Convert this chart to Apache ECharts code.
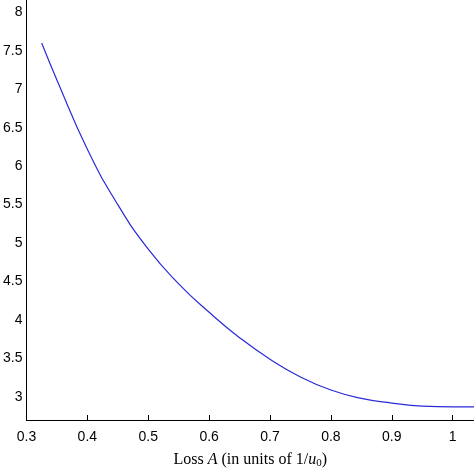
<!DOCTYPE html>
<html><head><meta charset="utf-8">
<script src="https://cdn.jsdelivr.net/npm/echarts@6/dist/echarts.min.js"></script>
<style>html,body{margin:0;background:#fff}#c{width:474px;height:474px}</style>
</head><body><div id="c"></div>
<script>
var lossA = [0.325, 0.35, 0.4, 0.45, 0.5, 0.55, 0.6, 0.65, 0.7, 0.75, 0.8, 0.85, 0.9, 0.95, 1.0, 1.035];
var gain  = [7.60, 7.12, 6.22, 5.50, 4.92, 4.47, 4.10, 3.77, 3.49, 3.26, 3.09, 2.98, 2.92, 2.88, 2.87, 2.87];

var chart = echarts.init(document.getElementById("c"));
var pts = lossA.map(function (x, i) { return [x, gain[i]]; });
var font = "Liberation Sans";
chart.setOption({
  animation: false,
  grid: { left: 16, right: 0, top: 0, bottom: 54 },
  xAxis: {
    type: "value", min: 0.3, max: 1.035, interval: 0.1,
    axisLine: { onZero: false, lineStyle: { color: "#000" } },
    axisTick: { inside: true, length: 5, lineStyle: { color: "#000" } },
    axisLabel: { color: "#000", fontSize: 14, fontFamily: font, margin: 10, showMaxLabel: false,
      formatter: function (v) { return Math.abs(v - 1) < 1e-6 ? "1" : v.toFixed(1); } },
    splitLine: { show: false },
    name: "{n|Loss }{i|A}{n| (in units of 1/}{i|u}{s|0}{n|)}",
    nameLocation: "middle", nameGap: 30,
    nameTextStyle: { rich: {
      n: { fontFamily: "Liberation Serif", fontSize: 16, color: "#000" },
      i: { fontFamily: "Liberation Serif", fontStyle: "italic", fontSize: 16, color: "#000" },
      s: { fontFamily: "Liberation Serif", fontSize: 11, color: "#000", padding: [8, 0, 0, 0] }
    } }
  },
  yAxis: {
    type: "value", min: 2.7, max: 8.16, interval: 0.1,
    axisLine: { show: true, lineStyle: { color: "#000" } },
    axisTick: { show: false },
    axisLabel: { color: "#000", fontSize: 14, fontFamily: font, margin: 4, showMaxLabel: false,
      formatter: function (v) {
        var d = v * 2;
        if (Math.abs(d - Math.round(d)) > 1e-6) return "";
        var r = Math.round(d) / 2;
        return r % 1 === 0 ? String(r) : r.toFixed(1);
      } },
    splitLine: { show: false }
  },
  series: [{
    type: "line", data: pts, smooth: true, showSymbol: false,
    lineStyle: { color: "#2a2ad6", width: 1.2 }
  }]
});
</script></body></html>
